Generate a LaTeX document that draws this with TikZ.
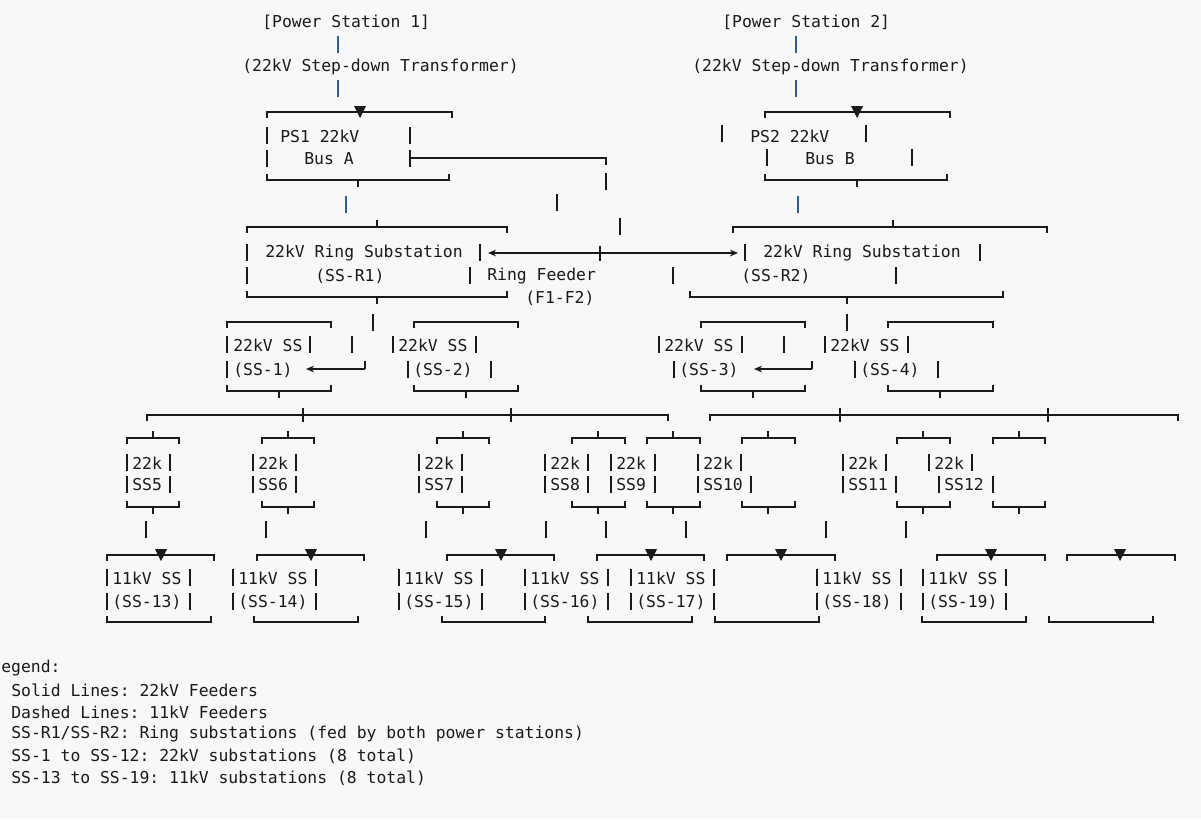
\documentclass[tikz,border=0pt]{standalone}
\usepackage{fontspec}
\setmonofont{DejaVu Sans Mono}
\usetikzlibrary{arrows.meta}
\definecolor{bg}{HTML}{F8F8F8}
\definecolor{ink}{HTML}{1A1A1A}
\definecolor{blu}{HTML}{2A5AA8}
\tikzset{
  tx/.style={anchor=west,inner sep=0pt,font=\ttfamily\fontsize{12.3}{14}\selectfont,text=ink},
  ln/.style={draw=ink,line width=1.1pt},
  bl/.style={draw=blu,line width=1.1pt},
  arr/.style={ln,-{Stealth[length=6pt,width=5pt]}}
}
\newcommand\Vb[2]{\draw[ln] (#1,{#2-9}) -- (#1,{#2+8});}
\newcommand\Bb[2]{\draw[bl] (#1,{#2-9}) -- (#1,{#2+8});}
\newcommand\TopBr[3]{\draw[ln] (#1,{#3+6}) -- (#1,#3) -- (#2,#3) -- (#2,{#3+6});}
\newcommand\BotBr[3]{\draw[ln] (#1,{#3-6}) -- (#1,#3) -- (#2,#3) -- (#2,{#3-6});}
\newcommand\Up[2]{\draw[ln] (#1,#2) -- (#1,{#2-7});}
\newcommand\Dn[2]{\draw[ln] (#1,#2) -- (#1,{#2+7});}
\newcommand\Tri[2]{\fill[ink] ({#1-6},{#2-6}) -- ({#1+6},{#2-6}) -- (#1,{#2+6}) -- cycle;}
\newcommand\Tx[4]{\node[tx] (#1) at (#2,#3) {#4};}
\begin{document}
\begin{tikzpicture}[x=0.75pt,y=-0.75pt]
\fill[bg] (0,0) rectangle (1201,819);
\useasboundingbox (0,0) rectangle (1201,819);
% --- Power stations
\Tx{ps1}{262}{22}{[Power Station 1]}
\Tx{ps2}{722}{22}{[Power Station 2]}
\Bb{338}{45} \Bb{796}{45}
\Tx{tr1}{242}{67}{(22kV Step-down Transformer)}
\Tx{tr2}{692}{67}{(22kV Step-down Transformer)}
\Bb{338}{89} \Bb{796}{89}
% --- Bus A
\TopBr{267}{452}{112} \Tri{360}{112}
\Vb{267}{136} \Vb{267}{159} \Vb{410}{136} \Vb{410}{159}
\Tx{busa1}{280}{136}{PS1 22kV}
\Tx{busa2}{304}{159}{Bus A}
\draw[ln] (410,158) -- (606,158) -- (606,165);
\BotBr{267}{449}{180} \Dn{358}{180}
\Vb{606}{182}
\Bb{346}{205}
\Vb{557}{203}
\Vb{620}{227}
% --- Bus B
\TopBr{765}{950}{112} \Tri{857}{112}
\Vb{722}{134} \Vb{866}{134} \Vb{767}{158} \Vb{912}{158}
\Tx{busb1}{750}{136}{PS2 22kV}
\Tx{busb2}{805}{159}{Bus B}
\BotBr{765}{947}{180} \Dn{857}{180}
\Bb{798}{205}
% --- Ring substations
\TopBr{247}{507}{227} \Up{377}{227}
\Vb{247}{253} \Vb{247}{276} \Vb{480}{253} \Vb{470}{276}
\Tx{r1a}{265}{253}{22kV Ring Substation}
\Tx{r1b}{315}{276}{(SS-R1)}
\BotBr{247}{507}{297} \Dn{377}{297}
\TopBr{733}{1047}{227} \Up{893}{227}
\Vb{745}{253} \Vb{980}{253} \Vb{673}{276} \Vb{896}{276}
\Tx{r2a}{763}{253}{22kV Ring Substation}
\Tx{r2b}{741}{276}{(SS-R2)}
\BotBr{690}{1003}{297} \Dn{847}{297}
\coordinate (fa) at (488,253); \coordinate (fb) at (738,253); \coordinate (fm) at (600,253);
\draw[arr] (fm) -- (fa); \draw[arr] (fm) -- (fb);
\draw[ln] (600,246) -- (600,261);
\Tx{rf1}{487}{276}{Ring Feeder}
\Tx{rf2}{525}{298}{(F1-F2)}
% --- 22kV SS 1-4
\Vb{373}{323}
\TopBr{227}{331}{322} \Vb{227}{345} \Vb{310}{345} \Vb{227}{370}
\Tx{s1a}{233}{345}{22kV SS} \Tx{s1b}{233}{370}{(SS-1)}
\Vb{352}{345}
\draw[ln] (365,361) -- (365,369); \draw[arr] (365,369) -- (306,369);
\BotBr{227}{331}{391} \Dn{279}{391}
\TopBr{414}{518}{322} \Vb{393}{345} \Vb{476}{345} \Vb{408}{370} \Vb{491}{370}
\Tx{s2a}{398}{345}{22kV SS} \Tx{s2b}{413}{370}{(SS-2)}
\BotBr{414}{518}{391} \Dn{466}{391}
\Vb{847}{323}
\TopBr{701}{805}{322} \Vb{659}{345} \Vb{742}{345} \Vb{674}{370}
\Tx{s3a}{664}{345}{22kV SS} \Tx{s3b}{679}{370}{(SS-3)}
\Vb{784}{345}
\draw[ln] (812,361) -- (812,369); \draw[arr] (812,369) -- (754,369);
\BotBr{701}{805}{391} \Dn{753}{391}
\TopBr{888}{993}{322} \Vb{825}{345} \Vb{908}{345} \Vb{855}{370} \Vb{938}{370}
\Tx{s4a}{830}{345}{22kV SS} \Tx{s4b}{860}{370}{(SS-4)}
\BotBr{888}{993}{391} \Dn{940}{391}
% --- distribution buses
\TopBr{147}{668}{415} \draw[ln] (303,408) -- (303,422); \draw[ln] (511,408) -- (511,422);
\TopBr{710}{1178}{415} \draw[ln] (840,408) -- (840,422); \draw[ln] (1048,408) -- (1048,422);
% --- 22k boxes: top brackets
\TopBr{127}{179}{438} \Up{153}{438}
\TopBr{262}{314}{438} \Up{288}{438}
\TopBr{437}{489}{438} \Up{463}{438}
\TopBr{572}{625}{438} \Up{598}{438}
\TopBr{647}{700}{438} \Up{673}{438}
\TopBr{742}{795}{438} \Up{768}{438}
\TopBr{897}{950}{438} \Up{923}{438}
\TopBr{993}{1045}{438} \Up{1019}{438}
% bottom brackets
\BotBr{127}{179}{507} \Dn{153}{507}
\BotBr{262}{314}{507} \Dn{288}{507}
\BotBr{437}{489}{507} \Dn{463}{507}
\BotBr{572}{625}{507} \Dn{598}{507}
\BotBr{647}{700}{507} \Dn{673}{507}
\BotBr{742}{795}{507} \Dn{768}{507}
\BotBr{897}{950}{507} \Dn{923}{507}
\BotBr{993}{1045}{507} \Dn{1019}{507}
% 22k labels
\Vb{127}{463}\Vb{170}{463}\Vb{127}{485}\Vb{170}{485}
\Tx{k5a}{132}{463}{22k}\Tx{k5b}{132}{485}{SS5}
\Vb{253}{463}\Vb{296}{463}\Vb{253}{485}\Vb{296}{485}
\Tx{k6a}{258}{463}{22k}\Tx{k6b}{258}{485}{SS6}
\Vb{419}{463}\Vb{462}{463}\Vb{419}{485}\Vb{462}{485}
\Tx{k7a}{424}{463}{22k}\Tx{k7b}{424}{485}{SS7}
\Vb{545}{463}\Vb{588}{463}\Vb{545}{485}\Vb{588}{485}
\Tx{k8a}{550}{463}{22k}\Tx{k8b}{550}{485}{SS8}
\Vb{611}{463}\Vb{655}{463}\Vb{611}{485}\Vb{655}{485}
\Tx{k9a}{616}{463}{22k}\Tx{k9b}{616}{485}{SS9}
\Vb{698}{463}\Vb{741}{463}\Vb{698}{485}\Vb{751}{485}
\Tx{k10a}{703}{463}{22k}\Tx{k10b}{703}{485}{SS10}
\Vb{843}{463}\Vb{886}{463}\Vb{843}{485}\Vb{896}{485}
\Tx{k11a}{848}{463}{22k}\Tx{k11b}{848}{485}{SS11}
\Vb{929}{463}\Vb{972}{463}\Vb{939}{485}\Vb{993}{485}
\Tx{k12a}{934}{463}{22k}\Tx{k12b}{944}{485}{SS12}
% link bars
\Vb{146}{530}\Vb{266}{530}\Vb{426}{530}\Vb{546}{530}\Vb{606}{530}\Vb{686}{530}\Vb{826}{530}\Vb{906}{530}
% --- 11kV tops
\TopBr{107}{214}{555}\Tri{161}{555}
\TopBr{257}{364}{555}\Tri{311}{555}
\TopBr{447}{554}{555}\Tri{501}{555}
\TopBr{597}{704}{555}\Tri{651}{555}
\TopBr{727}{835}{555}\Tri{781}{555}
\TopBr{937}{1045}{555}\Tri{991}{555}
\TopBr{1067}{1175}{555}\Tri{1120}{555}
% 11kV bottoms
\BotBr{107}{211}{622}
\BotBr{254}{358}{622}
\BotBr{442}{545}{622}
\BotBr{588}{692}{622}
\BotBr{715}{819}{622}
\BotBr{922}{1026}{622}
\BotBr{1049}{1153}{622}
% 11kV labels
\Vb{107}{578}\Vb{190}{578}\Vb{107}{602}\Vb{190}{602}
\Tx{e13a}{112}{578}{11kV SS}\Tx{e13b}{112}{602}{(SS-13)}
\Vb{233}{578}\Vb{316}{578}\Vb{233}{602}\Vb{316}{602}
\Tx{e14a}{238}{578}{11kV SS}\Tx{e14b}{238}{602}{(SS-14)}
\Vb{399}{578}\Vb{482}{578}\Vb{399}{602}\Vb{482}{602}
\Tx{e15a}{404}{578}{11kV SS}\Tx{e15b}{404}{602}{(SS-15)}
\Vb{525}{578}\Vb{608}{578}\Vb{525}{602}\Vb{608}{602}
\Tx{e16a}{530}{578}{11kV SS}\Tx{e16b}{530}{602}{(SS-16)}
\Vb{631}{578}\Vb{714}{578}\Vb{631}{602}\Vb{714}{602}
\Tx{e17a}{636}{578}{11kV SS}\Tx{e17b}{636}{602}{(SS-17)}
\Vb{817}{578}\Vb{901}{578}\Vb{817}{602}\Vb{901}{602}
\Tx{e18a}{822}{578}{11kV SS}\Tx{e18b}{822}{602}{(SS-18)}
\Vb{923}{578}\Vb{1006}{578}\Vb{923}{602}\Vb{1006}{602}
\Tx{e19a}{928}{578}{11kV SS}\Tx{e19b}{928}{602}{(SS-19)}
% --- legend
\Tx{lg0}{1}{668}{egend:}
\Tx{lg1}{11}{690}{Solid Lines: 22kV Feeders}
\Tx{lg2}{11}{712}{Dashed Lines: 11kV Feeders}
\Tx{lg3}{11}{734}{SS-R1/SS-R2: Ring substations (fed by both power stations)}
\Tx{lg4}{11}{756}{SS-1 to SS-12: 22kV substations (8 total)}
\Tx{lg5}{11}{778}{SS-13 to SS-19: 11kV substations (8 total)}
\end{tikzpicture}
\end{document}
